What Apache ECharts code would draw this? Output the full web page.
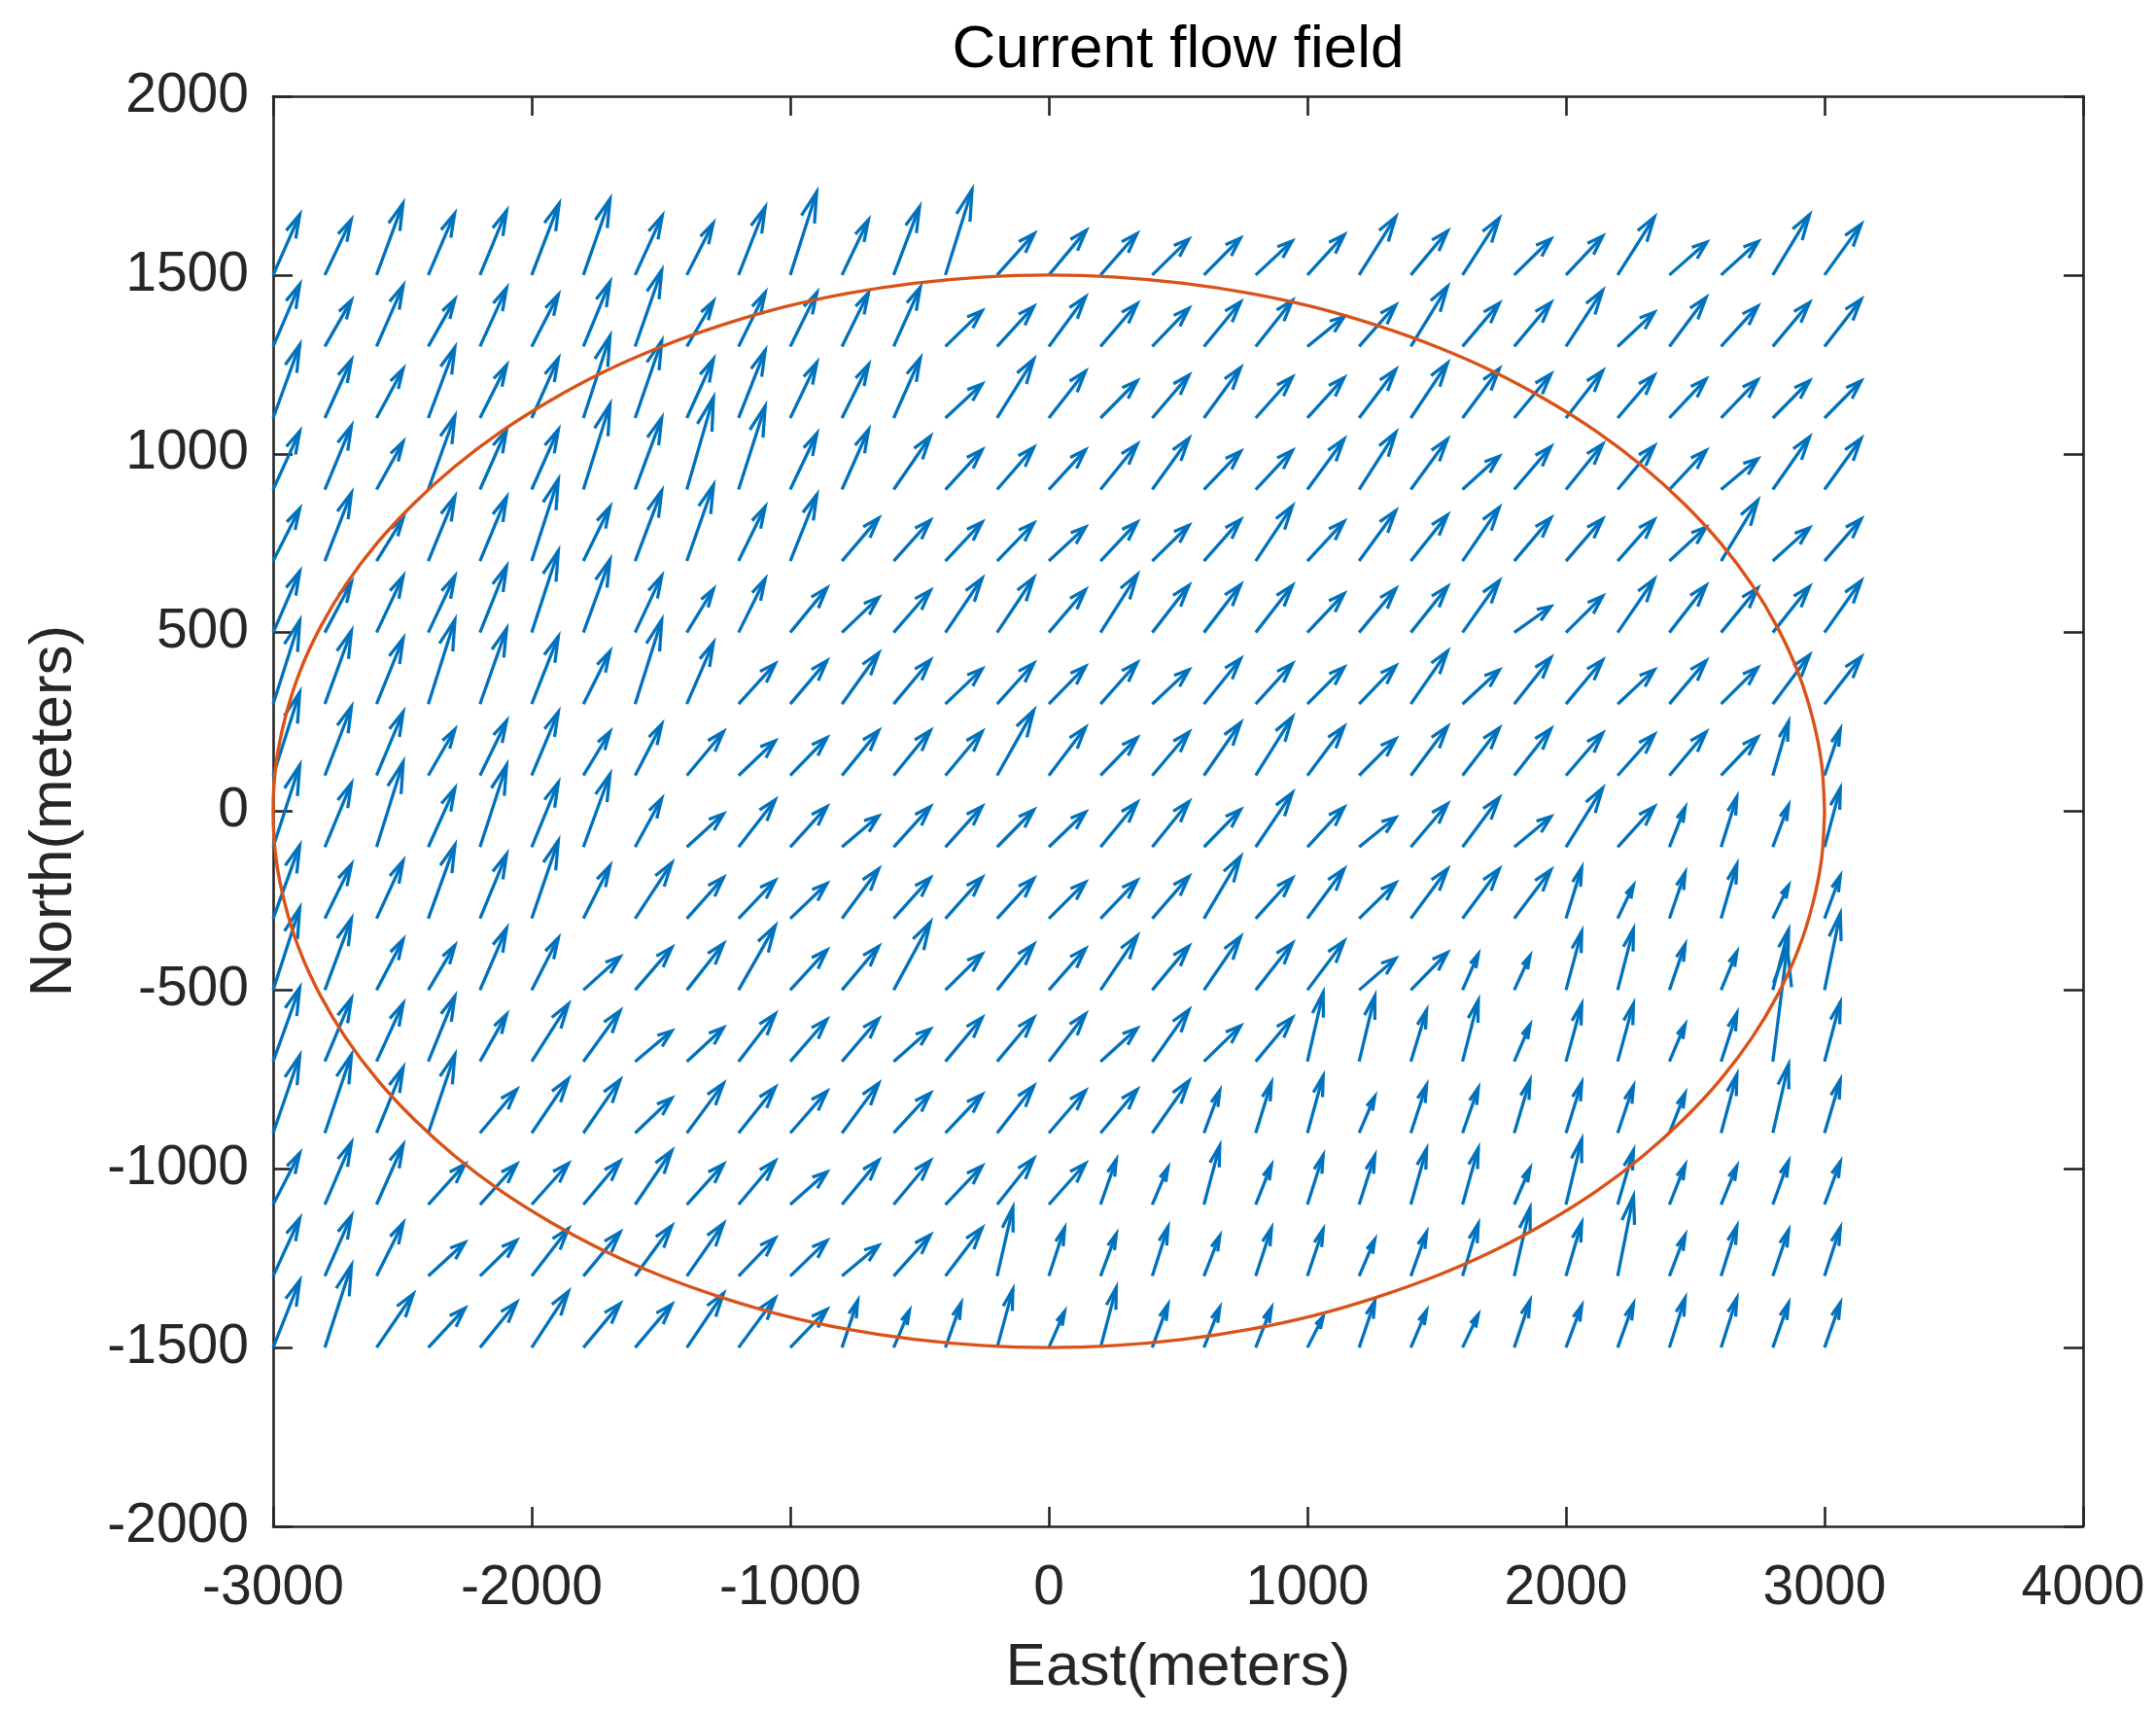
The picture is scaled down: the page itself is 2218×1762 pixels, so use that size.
<!DOCTYPE html>
<html><head><meta charset="utf-8">
<script src="https://cdn.jsdelivr.net/npm/echarts@6/dist/echarts.min.js"></script>
<style>html,body{margin:0;padding:0;background:#fff}#c{width:2218px;height:1762px}</style>
</head><body><div id="c"></div>
<script>
// Grid of arrow base positions
const columnsX = [-3000,-2800,-2600,-2400,-2200,-2000,-1800,-1600,-1400,-1200,-1000,-800,-600,-400,-200,0,200,400,600,800,1000,1200,1400,1600,1800,2000,2200,2400,2600,2800,3000];
const rowsY = [1500,1300,1100,900,700,500,300,100,-100,-300,-500,-700,-900,-1100,-1300,-1500];
const xTicks = [-3000,-2000,-1000,0,1000,2000,3000,4000];
const yTicks = [-2000,-1500,-1000,-500,0,500,1000,1500,2000];

// Displayed arrow components (East, North), in meters, one array per row
const u_1500 = [103,102,102,102,103,106,103,105,102,103,102,102,100,103,144,145,141,141,141,141,143,142,142,142,142,142,142,145,144,142,142];
const v_1500 = [169,155,200,172,180,200,213,166,145,190,232,154,191,239,116,125,116,100,103,95,113,163,123,159,101,109,162,92,94,169,142];
const u_1300 = [103,103,103,103,103,103,103,103,103,103,103,103,103,142,142,142,142,142,142,142,142,142,142,142,142,142,142,142,142,142,142];
const v_1300 = [174,130,171,132,164,145,181,214,127,151,151,151,166,100,112,139,120,107,125,129,83,116,168,121,123,157,96,137,113,123,132];
const u_1100 = [103,103,103,103,103,103,103,103,103,103,103,103,103,142,142,142,142,142,142,142,142,142,142,142,142,142,142,142,142,142,142];
const v_1100 = [205,163,138,198,148,167,230,216,165,189,156,150,168,95,165,131,104,120,141,115,113,136,154,138,123,132,120,109,107,104,104];
const u_900 = [103,103,103,103,103,103,103,103,103,103,103,103,142,142,142,142,142,142,142,142,142,142,142,142,142,142,142,142,142,142,142];
const v_900 = [163,179,134,206,168,168,239,201,258,233,157,168,149,111,118,111,127,143,107,109,141,160,141,93,120,127,122,109,86,147,143];
const u_700 = [103,103,103,103,103,103,103,103,103,103,103,142,142,142,142,142,142,142,142,142,142,142,142,142,142,142,142,142,142,142,142];
const v_700 = [147,191,120,181,179,229,152,197,213,152,186,120,114,109,106,95,109,100,116,154,111,141,129,150,121,118,116,95,170,93,118];
const u_500 = [103,103,103,103,103,103,103,103,103,103,142,142,142,142,142,142,142,142,142,142,142,142,142,142,142,142,142,142,142,142,142];
const v_500 = [171,141,158,158,186,229,204,159,122,150,125,98,118,152,154,120,162,132,134,132,109,123,129,145,73,102,150,132,125,129,145];
const u_300 = [103,103,103,103,103,103,103,103,103,142,142,142,142,142,142,142,142,142,142,142,142,142,142,142,142,142,142,142,142,142,142];
const v_300 = [234,205,184,236,211,189,148,236,172,113,121,143,123,98,114,105,116,96,127,113,103,107,148,95,130,123,96,121,102,137,132];
const u_100 = [103,103,103,103,103,103,103,103,142,142,142,142,142,142,142,142,142,142,142,142,142,142,142,142,142,142,142,142,142,61,61];
const v_100 = [233,193,178,129,153,178,123,144,123,97,106,126,126,123,183,135,106,121,148,164,137,103,137,133,131,119,115,122,108,151,130];
const u_m100 = [103,103,103,103,103,103,103,103,142,142,142,142,142,142,142,142,142,142,142,142,142,142,142,142,142,142,142,61,61,61,61];
const v_m100 = [229,179,238,165,230,181,204,136,93,132,113,87,113,114,104,98,125,127,105,152,111,83,121,138,85,165,113,111,141,118,165];
const u_m300 = [103,103,103,103,103,103,103,142,142,142,142,142,142,142,142,142,142,142,142,142,142,142,142,142,142,61,61,61,61,61,61];
const v_m300 = [205,152,162,206,180,218,148,156,115,107,98,139,114,115,112,102,107,118,174,113,139,100,139,139,136,143,93,129,152,93,120];
const u_m500 = [103,103,103,103,103,103,142,142,142,142,142,142,142,142,142,142,142,142,142,142,142,142,142,61,61,61,61,61,61,61,61];
const v_m500 = [230,200,142,125,173,146,93,119,130,180,112,122,190,101,128,116,152,123,150,131,137,89,105,101,96,164,171,128,107,169,214];
const u_m700 = [103,103,103,103,103,142,142,142,142,142,142,142,142,142,142,142,142,142,142,142,61,61,61,61,61,61,61,61,61,56,61];
const v_m700 = [207,177,163,183,132,161,142,86,95,133,118,120,91,123,123,133,93,145,100,123,193,184,144,172,103,161,162,104,136,320,166];
const u_m900 = [103,103,103,103,142,142,142,142,142,142,142,142,142,142,142,142,142,142,61,61,61,61,61,61,61,61,61,61,61,61,61];
const v_m900 = [217,220,184,220,122,152,149,98,139,128,117,139,112,108,132,119,122,146,119,142,160,103,135,127,148,142,132,112,164,193,149];
const u_m1100 = [103,103,103,142,142,142,142,142,142,142,142,142,142,142,142,142,61,61,61,61,61,61,61,61,61,61,61,61,61,61,61];
const v_m1100 = [144,174,168,113,113,115,122,151,113,122,91,124,123,108,129,115,126,104,165,111,138,138,156,158,102,183,152,111,108,122,120];
const u_m1300 = [103,103,103,142,142,142,142,142,142,142,142,142,142,142,61,61,61,61,61,61,61,61,61,61,61,61,61,61,61,61,61];
const v_m1300 = [162,169,149,94,100,133,123,141,147,106,99,86,115,135,192,135,118,138,113,135,131,103,123,147,191,150,224,115,140,129,136];
const u_m1500 = [103,103,142,142,142,142,142,142,142,142,142,61,61,61,61,61,61,61,61,61,61,61,61,61,61,61,61,61,61,61,61];
const v_m1500 = [188,231,150,110,127,157,123,121,152,139,107,132,104,125,163,101,168,121,113,112,87,130,104,93,132,118,123,139,139,125,125];

// Boundary curve points (closed loop)
const ellipseX = [3000,2989,2954,2898,2819,2719,2598,2457,2298,2121,1928,1721,1500,1268,1026,776,521,261,0,-261,-521,-776,-1026,-1268,-1500,-1721,-1928,-2121,-2298,-2457,-2598,-2719,-2819,-2898,-2954,-2989,-3000,-2989,-2954,-2898,-2819,-2719,-2598,-2457,-2298,-2121,-1928,-1721,-1500,-1268,-1026,-776,-521,-261,0,261,521,776,1026,1268,1500,1721,1928,2121,2298,2457,2598,2719,2819,2898,2954,2989,3000];
const ellipseY = [0,131,260,388,513,634,750,860,964,1061,1149,1229,1299,1359,1410,1449,1477,1494,1500,1494,1477,1449,1410,1359,1299,1229,1149,1061,964,860,750,634,513,388,260,131,0,-131,-260,-388,-513,-634,-750,-860,-964,-1061,-1149,-1229,-1299,-1359,-1410,-1449,-1477,-1494,-1500,-1494,-1477,-1449,-1410,-1359,-1299,-1229,-1149,-1061,-964,-860,-750,-634,-513,-388,-260,-131,0];

const uRows = [u_1500,u_1300,u_1100,u_900,u_700,u_500,u_300,u_100,u_m100,u_m300,u_m500,u_m700,u_m900,u_m1100,u_m1300,u_m1500];
const vRows = [v_1500,v_1300,v_1100,v_900,v_700,v_500,v_300,v_100,v_m100,v_m300,v_m500,v_m700,v_m900,v_m1100,v_m1300,v_m1500];
const quiverData = [];
rowsY.forEach((y, r) => columnsX.forEach((x, c) => quiverData.push([x, y, uRows[r][c], vRows[r][c]])));

const FONT = '"Liberation Sans", Arial, Helvetica, sans-serif';
const AX = '#262626';
const ALPHA = 0.33, BETA = 0.33;

function renderArrow(params, api) {
  const x = api.value(0), y = api.value(1), u = api.value(2), v = api.value(3);
  const p0 = api.coord([x, y]);
  const p1 = api.coord([x + u, y + v]);
  const h1 = api.coord([x + u - ALPHA * (u + BETA * v), y + v - ALPHA * (v - BETA * u)]);
  const h2 = api.coord([x + u - ALPHA * (u - BETA * v), y + v - ALPHA * (v + BETA * u)]);
  const style = { stroke: '#0072BD', lineWidth: 3.3, fill: null };
  return { type: 'group', children: [
    { type: 'polyline', shape: { points: [p0, p1] }, style: style },
    { type: 'polyline', shape: { points: [h1, p1, h2] }, style: style }
  ]};
}

function plain(v) { return String(v); }

function makeAxis(kind, pos, showLabel, margin) {
  const ticks = kind === 'x' ? xTicks : yTicks;
  return {
    type: 'value',
    min: ticks[0], max: ticks[ticks.length - 1], interval: ticks[1] - ticks[0],
    position: pos,
    axisLine: { show: true, onZero: false, lineStyle: { color: AX, width: 2.6 } },
    axisTick: { show: true, inside: true, length: 20, lineStyle: { color: AX, width: 2.6 } },
    axisLabel: { show: showLabel, color: AX, fontSize: 57, fontFamily: FONT, margin: margin, formatter: plain },
    splitLine: { show: false }
  };
}

const chart = echarts.init(document.getElementById('c'));
chart.setOption({
  animation: false,
  backgroundColor: '#fff',
  grid: { left: 281, top: 99, right: 75, bottom: 192, containLabel: false },
  xAxis: [ makeAxis('x', 'bottom', true, 36), makeAxis('x', 'top', false, 8) ],
  yAxis: [ makeAxis('y', 'left', true, 25), makeAxis('y', 'right', false, 8) ],
  graphic: [
    { type: 'text', x: 1212, y: 52, style: { text: 'Current flow field', fontSize: 62, fontFamily: FONT, fill: '#000', align: 'center', verticalAlign: 'middle', textAlign: 'center', textVerticalAlign: 'middle' } },
    { type: 'text', x: 1212, y: 1716, style: { text: 'East(meters)', fontSize: 62, fontFamily: FONT, fill: AX, align: 'center', verticalAlign: 'middle', textAlign: 'center', textVerticalAlign: 'middle' } },
    { type: 'text', x: 56, y: 834, rotation: Math.PI / 2, style: { text: 'North(meters)', fontSize: 62, fontFamily: FONT, fill: AX, align: 'center', verticalAlign: 'middle', textAlign: 'center', textVerticalAlign: 'middle' } }
  ],
  series: [
    { type: 'custom', renderItem: renderArrow, data: quiverData, encode: { x: 0, y: 1 }, clip: false, z: 2, silent: true },
    { type: 'line', data: ellipseX.map((x, i) => [x, ellipseY[i]]), smooth: 0.3, symbol: 'none', showSymbol: false,
      lineStyle: { color: '#D95319', width: 3.4 }, z: 3, silent: true }
  ]
});
</script></body></html>
